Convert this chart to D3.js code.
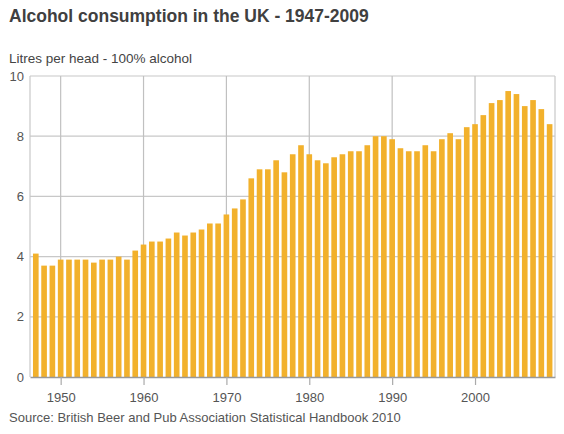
<!DOCTYPE html>
<html>
<head>
<meta charset="utf-8">
<script src="https://cdn.jsdelivr.net/npm/d3@7"></script>
<style>
  body { margin: 0; background: #fff; }
  svg { display: block; font-family: "Liberation Sans", Arial, sans-serif; }
</style>
</head>
<body>
<svg id="chart"></svg>
<script>
// years and litres per head (100% alcohol)
const years = d3.range(1947, 2010);
const litres = [
  4.1, 3.7, 3.7, 3.9, 3.9, 3.9, 3.9, 3.8, 3.9, 3.9,
  4.0, 3.9, 4.2, 4.4, 4.5, 4.5, 4.6, 4.8, 4.7, 4.8,
  4.9, 5.1, 5.1, 5.4, 5.6, 5.9, 6.6, 6.9, 6.9, 7.2,
  6.8, 7.4, 7.7, 7.4, 7.2, 7.1, 7.3, 7.4, 7.5, 7.5,
  7.7, 8.0, 8.0, 7.9, 7.6, 7.5, 7.5, 7.7, 7.5, 7.9,
  8.1, 7.9, 8.3, 8.4, 8.7, 9.1, 9.2, 9.5, 9.4, 9.0,
  9.2, 8.9, 8.4
];
const yTicks = [0, 2, 4, 6, 8, 10];
const xTicks = [1950, 1960, 1970, 1980, 1990, 2000];

const data = years.map((y, i) => ({ year: y, value: litres[i] }));

const W = 564, H = 434;
const margin = { top: 76, right: 9, bottom: 57, left: 30 };
const iw = W - margin.left - margin.right;
const ih = H - margin.top - margin.bottom;

const svg = d3.select('#chart').attr('width', W).attr('height', H);

svg.append('text')
  .attr('x', 9).attr('y', 22)
  .attr('font-size', 17.5).attr('font-weight', 'bold').attr('fill', '#404040')
  .text('Alcohol consumption in the UK - 1947-2009');

svg.append('text')
  .attr('x', 9).attr('y', 63)
  .attr('font-size', 13.5).attr('fill', '#444')
  .text('Litres per head - 100% alcohol');

svg.append('text')
  .attr('x', 9).attr('y', 422)
  .attr('font-size', 13).attr('fill', '#555')
  .text('Source: British Beer and Pub Association Statistical Handbook 2010');

const chart = svg.append('g')
  .attr('transform', `translate(${margin.left}, ${margin.top})`);

const x = d3.scaleLinear().domain([1946.3, 2009.65]).range([0, iw]);
const y = d3.scaleLinear().domain([0, 10]).range([ih, 0]);

// horizontal grid
chart.append('g')
  .selectAll('line')
  .data(yTicks.slice(1))
  .join('line')
  .attr('x1', 0).attr('x2', iw)
  .attr('y1', d => y(d)).attr('y2', d => y(d))
  .attr('stroke', '#c8c8c8').attr('stroke-width', 1.2);

// vertical grid
chart.append('g')
  .selectAll('line')
  .data(xTicks)
  .join('line')
  .attr('x1', d => x(d)).attr('x2', d => x(d))
  .attr('y1', 0).attr('y2', ih)
  .attr('stroke', '#c0c0c0').attr('stroke-width', 1.2);

chart.append('line')
  .attr('x1', iw).attr('x2', iw).attr('y1', 0).attr('y2', ih)
  .attr('stroke', '#c8c8c8').attr('stroke-width', 1.2);
chart.append('line')
  .attr('x1', 0).attr('x2', 0).attr('y1', 0).attr('y2', ih)
  .attr('stroke', '#c8c8c8').attr('stroke-width', 1.2);

const step = x(1948) - x(1947);
const bw = step * 0.68;

chart.selectAll('rect.bar')
  .data(data)
  .join('rect')
  .attr('class', 'bar')
  .attr('x', d => x(d.year) - bw / 2)
  .attr('y', d => y(d.value))
  .attr('width', bw)
  .attr('height', d => ih - y(d.value))
  .attr('fill', '#f2b12c');

// y axis labels
chart.append('g')
  .call(d3.axisLeft(y).tickValues(yTicks).tickSize(0).tickPadding(6))
  .call(g => g.select('.domain').remove())
  .selectAll('text')
  .attr('font-size', 13).attr('fill', '#555')
  .attr('font-family', '"Liberation Sans", Arial, sans-serif');

// x axis
const xaxis = chart.append('g')
  .attr('transform', `translate(0, ${ih})`)
  .call(d3.axisBottom(x).tickValues(xTicks).tickFormat(d3.format('d')).tickSize(8).tickSizeOuter(0).tickPadding(8));
xaxis.select('.domain').attr('stroke', '#999').attr('stroke-width', 1.5);
xaxis.selectAll('.tick line').attr('stroke', '#aaa').attr('stroke-width', 1.2);
xaxis.selectAll('text')
  .attr('font-size', 13).attr('fill', '#555')
  .attr('font-family', '"Liberation Sans", Arial, sans-serif');
</script>
</body>
</html>
